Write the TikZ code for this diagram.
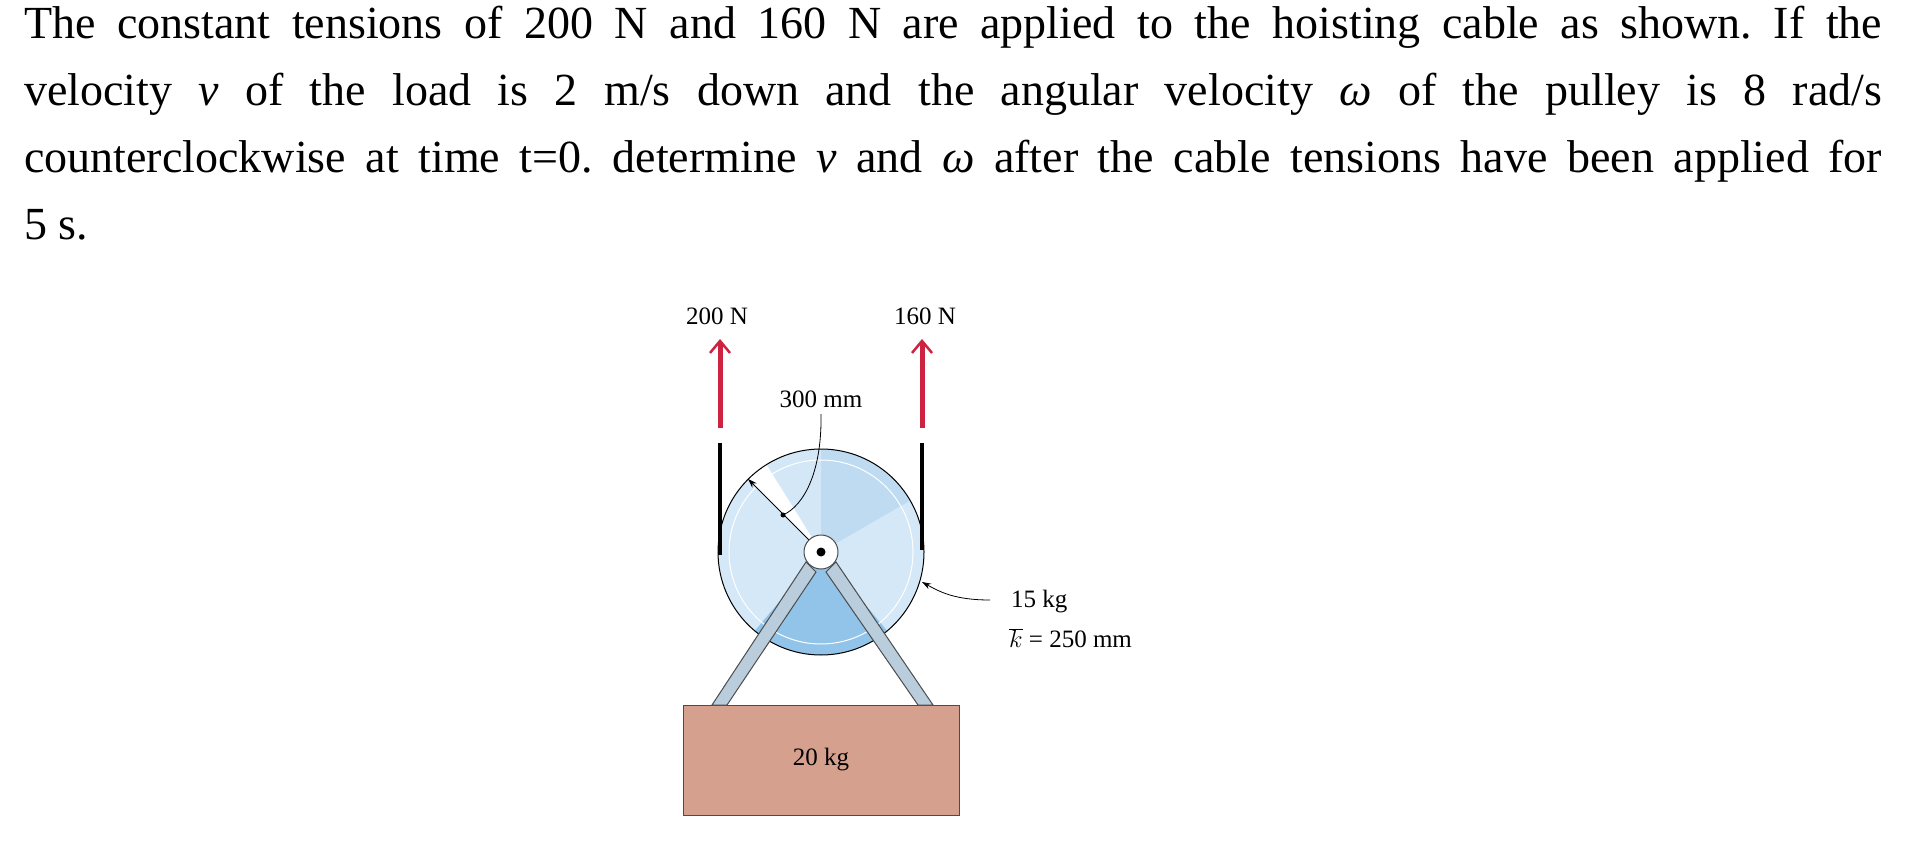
\documentclass[tikz,border=0pt]{standalone}
\usepackage{fontspec}
\setmainfont{Liberation Serif}
\usetikzlibrary{arrows.meta}
\frenchspacing
\definecolor{arr}{RGB}{205,35,65}
\definecolor{boxc}{RGB}{214,160,142}
\definecolor{legc}{RGB}{185,205,220}
\definecolor{wheel}{RGB}{212,232,248}
\definecolor{wheeld}{RGB}{110,175,225}
\tikzset{
  lbl/.style={font=\fontsize{25}{28}\selectfont\rmfamily, inner sep=0pt},
  force/.style={draw=arr, line width=5pt, -{Straight Barb[length=12pt,width=20pt,line width=2.5pt]}},
  cable/.style={line width=4pt},
  leg/.style={draw=black!70, fill=legc, line width=1pt}
}
\begin{document}
\begin{tikzpicture}[x=1pt,y=-1pt]
\useasboundingbox (0,0) rectangle (1905,842);
\node[text width=1858pt, align=justify, anchor=north west, inner sep=0pt,
  font=\fontsize{46}{67}\selectfont\frenchspacing] (prob) at (24,6)
  {The constant tensions of 200 N and 160 N are applied to the hoisting cable as shown. If the\linebreak velocity \textit{v} of the load is 2 m/s down and the angular velocity \textit{ω} of the pulley is 8 rad/s\linebreak counterclockwise at time t=0. determine \textit{v} and \textit{ω} after the cable tensions have been applied for\linebreak 5 s.};
% box
\node[draw=black!70, fill=boxc, line width=1pt, minimum width=276pt, minimum height=110pt, inner sep=0pt, anchor=north west] (box) at (683,705) {};
\node[lbl] (bl) at (821,760) {20 kg};
% pulley
\coordinate (C) at (821,552);
\fill[wheel] (C) circle (103);
\fill[wheeld!75] (C) -- (821,655) arc (90:50:103) -- cycle;
\fill[wheeld!75] (C) -- (821,655) arc (90:130:103) -- cycle;
\fill[wheeld!45] (C) -- ++(0,-103) arc (-90:-30:103) -- cycle;
\fill[wheeld!30] (C) -- ++(0,-103) arc (-90:-120:103) -- cycle;
\draw[white, line width=1pt] (C) circle (92);
\fill[white] (C) -- (748,479) arc (-135:-122:103) -- cycle;
\draw[line width=1pt] (C) circle (103);
% cables
\draw[cable] (720,443) -- (720,555);
\draw[cable] (922,443) -- (922,550);
% legs
\draw[leg] (806,562) -- (712,705) -- (727,705) -- (816,572) -- cycle;
\draw[leg] (836,562) -- (933,705) -- (918,705) -- (826,572) -- cycle;
\node[draw=black!70, fill=white, circle, minimum size=34pt, line width=1pt, inner sep=0pt] (hub) at (C) {};
\fill (C) circle (4.5);
% radius
\draw[line width=0.8pt, -{Stealth[length=9pt,width=6pt]}] (hub) -- (748,479);
\coordinate (dot) at (783,515);
\fill (dot) circle (2.5);
\node[lbl] (r) at (821,399) {300 mm};
\draw[line width=0.8pt] (821,414) .. controls (822,470) and (805,505) .. (dot);
% forces
\draw[force] (720,428) -- (720,339);
\draw[force] (922,428) -- (922,339);
\node[lbl] (f1) at (717,316) {200 N};
\node[lbl] (f2) at (925,316) {160 N};
% mass labels
\node[lbl, anchor=west] (m) at (1011,602) {15 kg};
\node[lbl, anchor=west] (k) at (1009,638) {$\overline{k}$ = 250 mm};
\draw[line width=0.8pt, -{Stealth[length=9pt,width=6pt]}] (990,600) .. controls (955,600) and (940,592) .. (922,582);
\end{tikzpicture}
\end{document}
